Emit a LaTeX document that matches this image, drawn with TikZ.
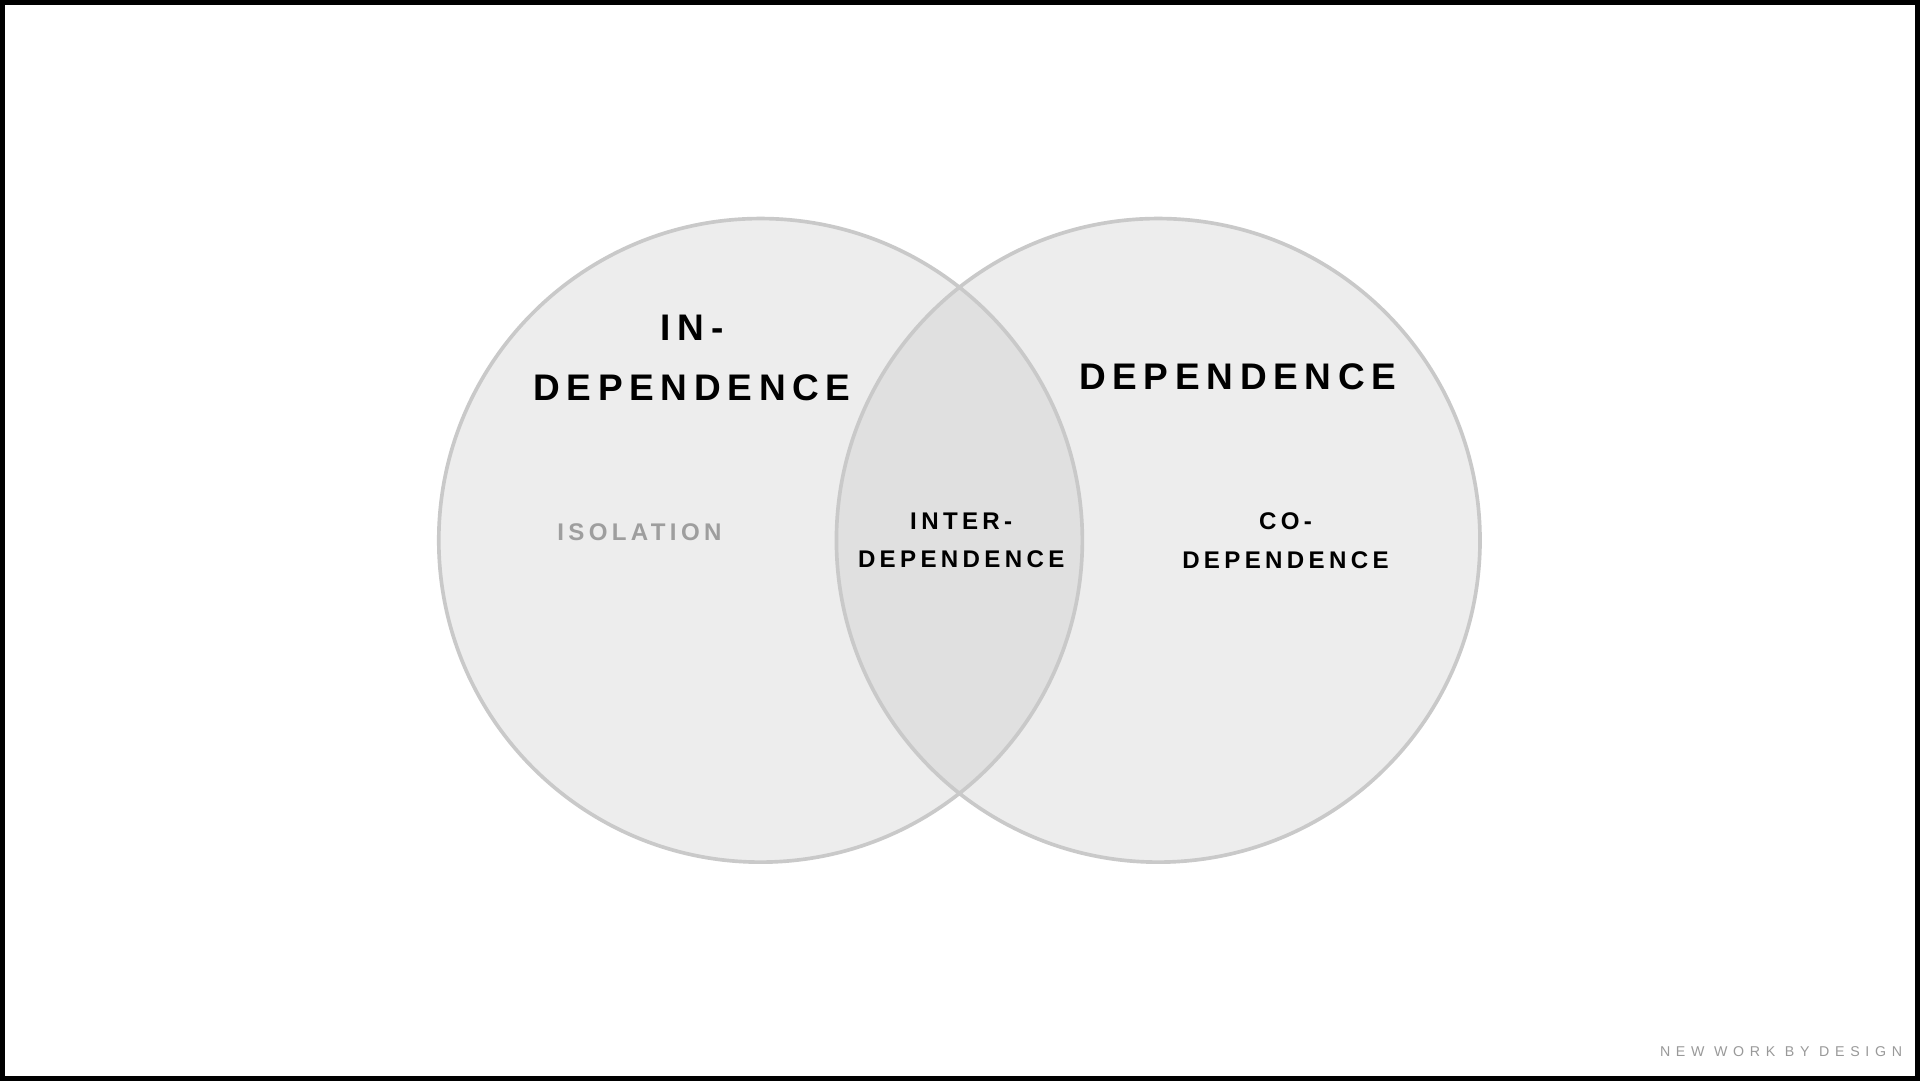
\documentclass[tikz,border=0pt]{standalone}
\usepackage{fontspec}
\setmainfont{Liberation Sans}
\newfontfamily\spaced[LetterSpace=18]{Liberation Sans}
\newfontfamily\wide[LetterSpace=40]{Liberation Sans}
\begin{document}
\begin{tikzpicture}[x=0.01cm,y=-0.01cm,
  circ/.style={draw=black!21,line width=0.85pt},
  big/.style={font=\spaced\bfseries\fontsize{8.6}{12}\selectfont,align=center,inner sep=0},
  mid/.style={font=\spaced\bfseries\fontsize{5.6}{8}\selectfont,align=center,inner sep=0}]
\path[fill=white] (0,0) rectangle (1568,882);
\draw[line width=1.2pt] (1.5,1.5) rectangle (1566.5,880.5);
\fill[black!7] (621,441) circle (263) (946,441) circle (263);
\begin{scope}\clip (621,441) circle (263);
\fill[black!12] (946,441) circle (263);\end{scope}
\draw[circ] (621,441) circle (263) (946,441) circle (263);
\node[big] (a) at (565,292) {IN-\\[2pt]DEPENDENCE};
\node[big] (b) at (1011,307) {DEPENDENCE};
\node[mid,text=black!38] (c) at (522,434) {ISOLATION};
\node[mid] (d) at (785,441) {INTER-\\[1pt]DEPENDENCE};
\node[mid] (e) at (1050,441) {CO-\\[1pt]DEPENDENCE};
\node[font=\wide\fontsize{3.3}{4}\selectfont,text=black!40,inner sep=0] (f) at (1455,859) {NEW WORK BY DESIGN};
\end{tikzpicture}
\end{document}
